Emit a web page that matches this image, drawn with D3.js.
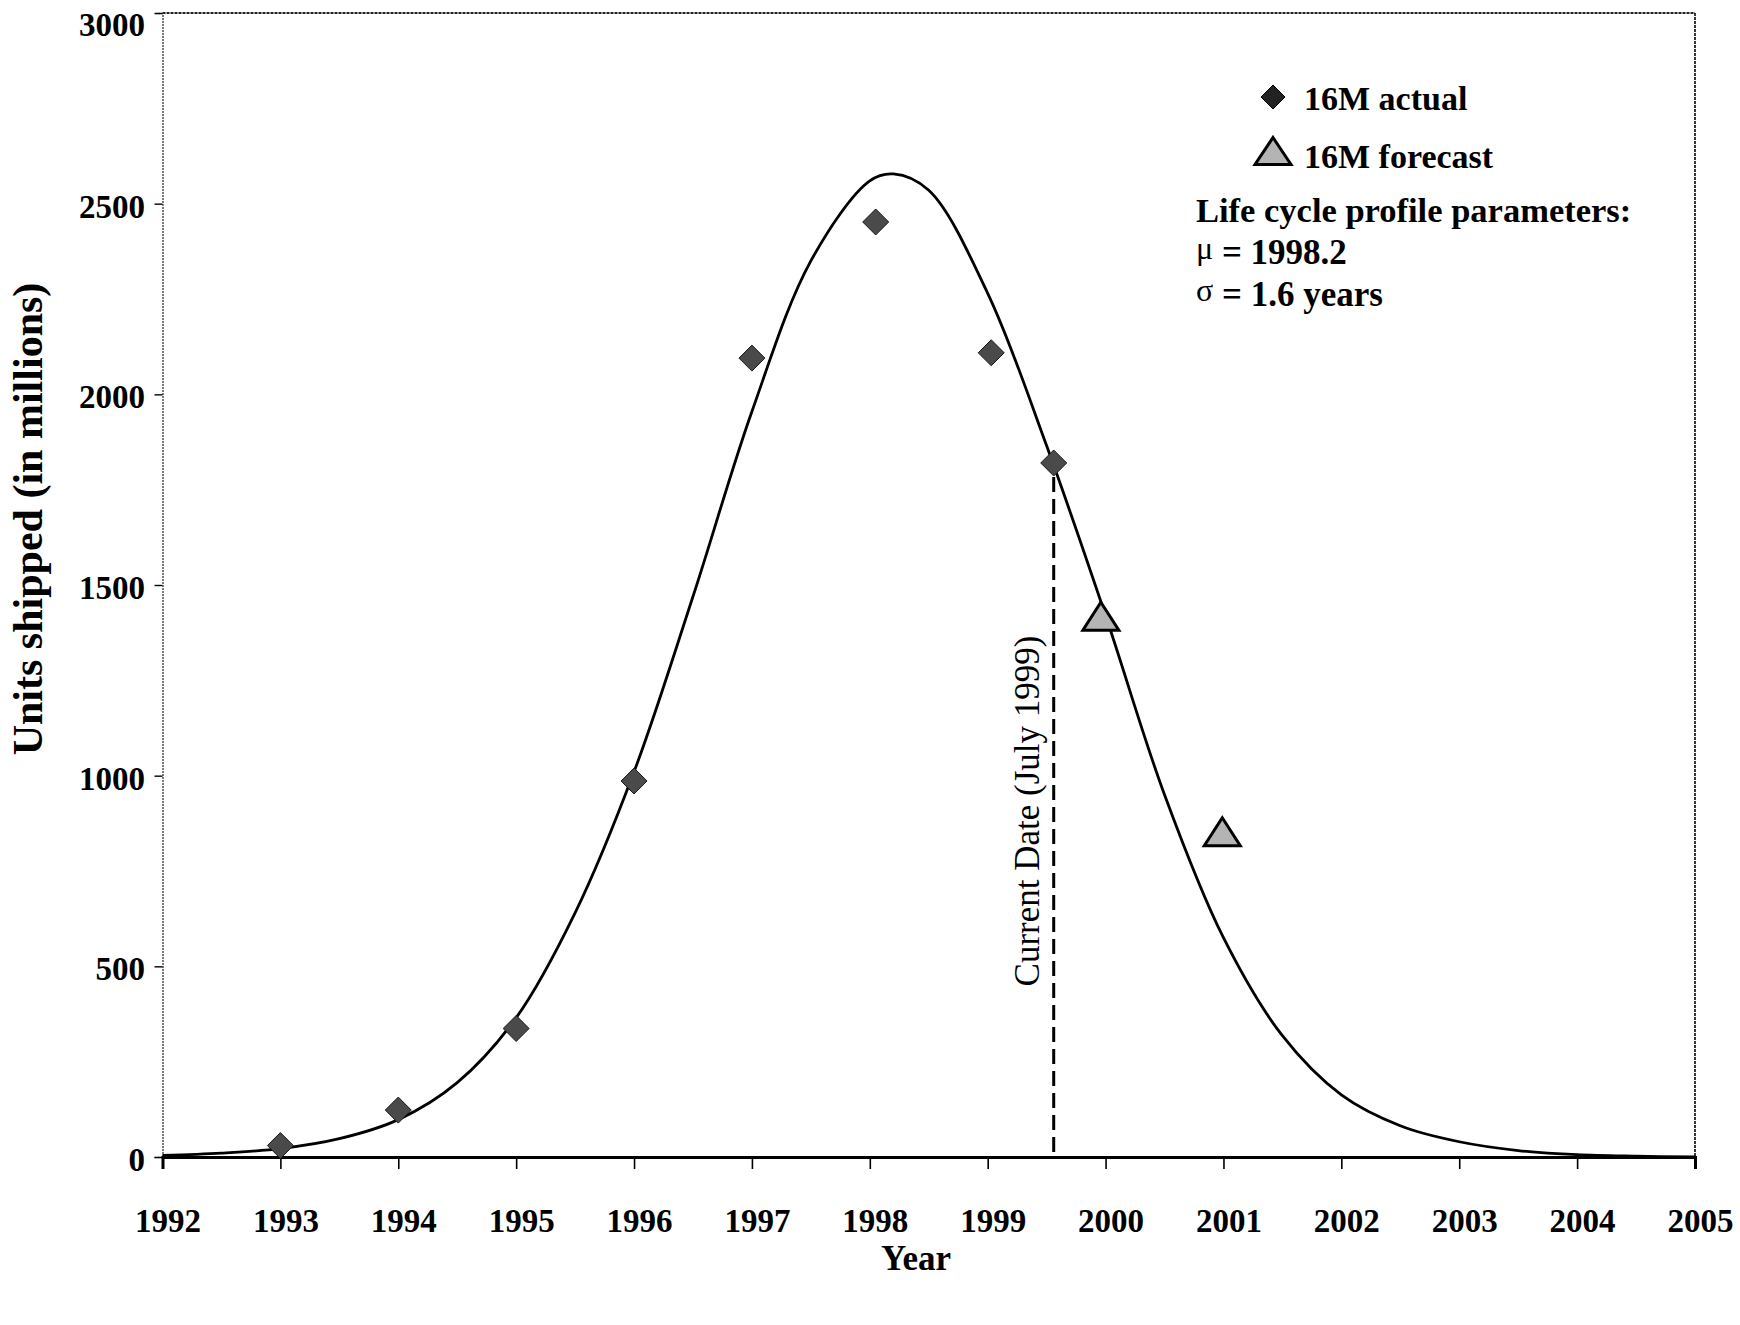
<!DOCTYPE html>
<html>
<head>
<meta charset="utf-8">
<script src="https://cdn.jsdelivr.net/npm/d3@7"></script>
<style>
  html, body { margin: 0; padding: 0; background: #ffffff; }
  svg { display: block; }
  text { font-family: "Liberation Serif", "Times New Roman", serif; fill: #000; }
</style>
</head>
<body>
<svg id="chart" width="1740" height="1325"></svg>
<script>
// ---------------- data ----------------
const xTickYears = [1992, 1993, 1994, 1995, 1996, 1997, 1998, 1999, 2000, 2001, 2002, 2003, 2004, 2005];
const yTickValues = [0, 500, 1000, 1500, 2000, 2500, 3000];

const actualYears  = [1993, 1994, 1995, 1996, 1997, 1998.05, 1999.03, 1999.56];
const actualValues = [30, 123, 337, 986, 2095, 2452, 2109, 1820];

const forecastYears  = [1999.96, 2000.99];
const forecastValues = [1418, 853];

const profileYears  = [1992, 1992.5, 1993, 1993.5, 1994, 1994.5, 1995, 1995.5, 1996, 1996.5, 1997, 1997.5, 1998, 1998.2, 1998.5, 1999, 1999.5, 2000, 2000.5, 2001, 2001.5, 2002, 2002.5, 2003, 2003.5, 2004, 2004.5, 2005];
const profileValues = [4, 10, 22, 48, 98, 195, 365, 640, 1010, 1470, 1955, 2350, 2560, 2578, 2535, 2265, 1865, 1420, 950, 575, 318, 163, 82, 40, 17, 6, 2, 0];

const currentDateYear = 1999.56;
const currentDateLabel = "Current Date (July 1999)";

const legendLabels = ["16M actual", "16M forecast"];
const paramTitle = "Life cycle profile parameters:";
const muText = "\u03BC", muValue = " = 1998.2";
const sigmaText = "\u03C3", sigmaValue = " = 1.6 years";
const xTitle = "Year";
const yTitle = "Units shipped (in millions)";

// ---------------- layout ----------------
const svg = d3.select("#chart");
const X0 = 162.5, X1 = 1695, Y0 = 1157, Y1 = 13;

const x = d3.scaleLinear().domain([1992, 2005]).range([X0, X1]);
const y = d3.scaleLinear().domain([0, 3000]).range([Y0, Y1]);

// plot frame (top / right thin, bottom heavy)
svg.append("line").attr("x1", X0).attr("x2", X1).attr("y1", Y1).attr("y2", Y1)
  .attr("stroke", "#222").attr("stroke-width", 1.8).attr("stroke-dasharray", "3,1");
svg.append("line").attr("x1", X1).attr("x2", X1).attr("y1", Y1).attr("y2", Y0)
  .attr("stroke", "#222").attr("stroke-width", 1.8).attr("stroke-dasharray", "3,1");

// Y axis
const yAxis = d3.axisLeft(y).tickValues(yTickValues).tickSize(8).tickPadding(10).tickFormat(d3.format("d"));
const gy = svg.append("g").attr("transform", `translate(${X0},0)`).call(yAxis);
gy.select(".domain").attr("stroke", "#444").attr("stroke-width", 1.4).attr("stroke-dasharray", "2,1");
gy.selectAll(".tick line").attr("stroke", "#000").attr("stroke-width", 1.4);
gy.selectAll(".tick text")
  .attr("font-family", "Liberation Serif, Times New Roman, serif")
  .attr("font-size", 33).attr("font-weight", "bold").attr("fill", "#000")
  .attr("x", -(X0 - 145)).attr("y", d => d === 3000 ? 11 : 2).attr("dy", "0.35em");

// X axis
const xAxis = d3.axisBottom(x).tickValues(xTickYears).tickSize(12).tickPadding(10).tickFormat(d3.format("d"));
const gx = svg.append("g").attr("transform", `translate(0,${Y0})`).call(xAxis);
gx.select(".domain").attr("stroke", "#000").attr("stroke-width", 3);
gx.selectAll(".tick line").attr("stroke", "#000").attr("stroke-width", 1.6);
gx.selectAll(".tick text")
  .attr("font-family", "Liberation Serif, Times New Roman, serif")
  .attr("font-size", 33).attr("font-weight", "bold").attr("fill", "#000")
  .attr("dx", 5).attr("y", 75).attr("dy", 0);

// axis titles
svg.append("text").attr("x", 916).attr("y", 1270)
  .attr("text-anchor", "middle").attr("font-size", 35).attr("font-weight", "bold").text(xTitle);
svg.append("text").attr("transform", "translate(42,519) rotate(-90)")
  .attr("text-anchor", "middle").attr("font-size", 42).attr("font-weight", "bold").text(yTitle);

// profile curve
const profile = profileYears.map((t, i) => [t, profileValues[i]]);
const line = d3.line().x(d => x(d[0])).y(d => y(d[1])).curve(d3.curveCatmullRom.alpha(0.5));
svg.append("path").datum(profile).attr("d", line)
  .attr("fill", "none").attr("stroke", "#000").attr("stroke-width", 2.8).attr("stroke-linejoin", "round");

// current date dashed line
const lastActual = actualValues[actualValues.length - 1];
svg.append("line")
  .attr("x1", x(currentDateYear)).attr("x2", x(currentDateYear))
  .attr("y1", y(lastActual) + 14).attr("y2", Y0)
  .attr("stroke", "#000").attr("stroke-width", 3).attr("stroke-dasharray", "15,7");
svg.append("text")
  .attr("transform", `translate(${x(currentDateYear) - 15},811) rotate(-90)`)
  .attr("text-anchor", "middle").attr("font-size", 35).text(currentDateLabel);

// symbols
const diamond = (cx, cy, r) => `M${cx},${cy - r}L${cx + r},${cy}L${cx},${cy + r}L${cx - r},${cy}Z`;
const triangle = (cx, cy, w, h) => `M${cx},${cy - h / 2}L${cx + w / 2},${cy + h / 2}L${cx - w / 2},${cy + h / 2}Z`;

// actual points
svg.append("g").selectAll("path").data(actualYears.map((t, i) => [t, actualValues[i]])).join("path")
  .attr("d", d => diamond(x(d[0]), y(d[1]), 13))
  .attr("fill", "#4a4a4a").attr("stroke", "#1a1a1a").attr("stroke-width", 1);

// forecast points
svg.append("g").selectAll("path").data(forecastYears.map((t, i) => [t, forecastValues[i]])).join("path")
  .attr("d", d => triangle(x(d[0]), y(d[1]), 36, 28))
  .attr("fill", "#b4b4b4").attr("stroke", "#000").attr("stroke-width", 3).attr("stroke-linejoin", "miter");

// legend
svg.append("path").attr("d", diamond(1273, 97, 12)).attr("fill", "#222").attr("stroke", "#000").attr("stroke-width", 1);
svg.append("text").attr("x", 1304).attr("y", 110).attr("font-size", 34).attr("font-weight", "bold").text(legendLabels[0]);
svg.append("path").attr("d", triangle(1273, 151, 36, 27)).attr("fill", "#b4b4b4").attr("stroke", "#000").attr("stroke-width", 3);
svg.append("text").attr("x", 1304).attr("y", 168).attr("font-size", 34).attr("font-weight", "bold").text(legendLabels[1]);
svg.append("text").attr("x", 1196).attr("y", 222).attr("font-size", 34.5).attr("font-weight", "bold").text(paramTitle);

const mu = svg.append("text").attr("x", 1196).attr("y", 264).attr("font-size", 35).attr("font-weight", "bold");
mu.append("tspan").attr("font-size", 32).attr("font-weight", "normal").attr("dy", -5).text(muText);
mu.append("tspan").attr("dy", 5).text(muValue);
const sg = svg.append("text").attr("x", 1196).attr("y", 306).attr("font-size", 35).attr("font-weight", "bold");
sg.append("tspan").attr("font-size", 32).attr("font-weight", "normal").attr("dy", -5).text(sigmaText);
sg.append("tspan").attr("dy", 5).text(sigmaValue);
</script>
</body>
</html>
